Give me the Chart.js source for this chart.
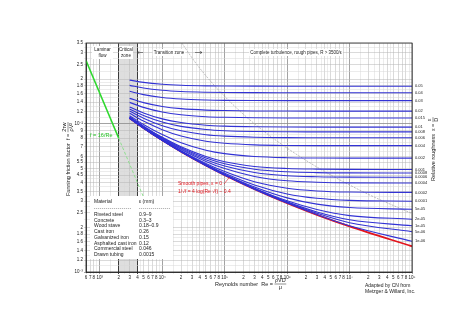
<!DOCTYPE html>
<html>
<head>
<meta charset="utf-8">
<script src="https://cdn.jsdelivr.net/npm/chart.js@4"></script>
<style>
  html, body { margin: 0; padding: 0; background: #fff; }
</style>
</head>
<body>
<canvas id="myChart" width="474" height="334"></canvas>
<script>
// Reynolds numbers where the turbulent curves are read
const reynolds = [3000, 5000, 1e4, 2e4, 5e4, 1e5, 3e5, 1e6, 3e6, 1e7, 1e8];

// relative roughness labels (right side) and Fanning friction factor
const roughness = ['0.05', '0.04', '0.03', '0.02', '0.015', '0.01', '0.008', '0.006', '0.004', '0.002',
  '0.001', '0.0008', '0.0006', '0.0004', '0.0002', '0.0001', '5e-05', '2e-05', '1e-05', '5e-06', '1e-06'];
const rough050 = [0.01967, 0.01899, 0.01845, 0.01817, 0.01800, 0.01795, 0.01791, 0.01789, 0.01789, 0.01789, 0.01789];
const rough040 = [0.01813, 0.01739, 0.01680, 0.01649, 0.01630, 0.01623, 0.01619, 0.01618, 0.01617, 0.01617, 0.01617];
const rough030 = [0.01653, 0.01570, 0.01503, 0.01467, 0.01445, 0.01437, 0.01432, 0.01430, 0.01430, 0.01430, 0.01430];
const rough020 = [0.01482, 0.01387, 0.01307, 0.01263, 0.01235, 0.01226, 0.01219, 0.01217, 0.01216, 0.01216, 0.01216];
const rough015 = [0.01392, 0.01288, 0.01198, 0.01148, 0.01115, 0.01104, 0.01096, 0.01093, 0.01093, 0.01092, 0.01092];
const rough010 = [0.01297, 0.01182, 0.01078, 0.01018, 0.00977, 0.00963, 0.00953, 0.00949, 0.00948, 0.00948, 0.00948];
const rough008 = [0.01257, 0.01136, 0.01026, 0.00959, 0.00914, 0.00897, 0.00886, 0.00882, 0.00881, 0.00880, 0.00880];
const rough006 = [0.01217, 0.01090, 0.00970, 0.00896, 0.00843, 0.00824, 0.00810, 0.00805, 0.00804, 0.00803, 0.00803];
const rough004 = [0.01175, 0.01041, 0.00911, 0.00826, 0.00762, 0.00738, 0.00720, 0.00713, 0.00711, 0.00711, 0.00711];
const rough002 = [0.01132, 0.00989, 0.00845, 0.00745, 0.00663, 0.00628, 0.00601, 0.00590, 0.00587, 0.00586, 0.00586];
const rough001 = [0.01111, 0.00963, 0.00809, 0.00699, 0.00601, 0.00554, 0.00515, 0.00499, 0.00494, 0.00492, 0.00491];
const rough0008 = [0.01106, 0.00958, 0.00803, 0.00689, 0.00587, 0.00537, 0.00493, 0.00474, 0.00468, 0.00466, 0.00465];
const rough0006 = [0.01102, 0.00952, 0.00795, 0.00679, 0.00572, 0.00518, 0.00469, 0.00446, 0.00439, 0.00436, 0.00435];
const rough0004 = [0.01097, 0.00946, 0.00788, 0.00669, 0.00557, 0.00498, 0.00441, 0.00412, 0.00403, 0.00399, 0.00398];
const rough0002 = [0.01093, 0.00940, 0.00780, 0.00658, 0.00540, 0.00476, 0.00406, 0.00367, 0.00352, 0.00346, 0.00344];
const rough0001 = [0.01090, 0.00937, 0.00776, 0.00653, 0.00531, 0.00463, 0.00386, 0.00336, 0.00314, 0.00304, 0.00300];
const rough5e5 = [0.01089, 0.00936, 0.00774, 0.00650, 0.00527, 0.00457, 0.00374, 0.00316, 0.00287, 0.00272, 0.00265];
const rough2e5 = [0.01089, 0.00935, 0.00773, 0.00648, 0.00524, 0.00453, 0.00367, 0.00302, 0.00264, 0.00240, 0.00227];
const rough1e5 = [0.01088, 0.00935, 0.00772, 0.00648, 0.00523, 0.00451, 0.00364, 0.00297, 0.00254, 0.00225, 0.00205];
const rough5e6 = [0.01088, 0.00935, 0.00772, 0.00647, 0.00523, 0.00451, 0.00363, 0.00294, 0.00249, 0.00215, 0.00187];
const rough1e6 = [0.01088, 0.00935, 0.00772, 0.00647, 0.00523, 0.00450, 0.00362, 0.00292, 0.00244, 0.00205, 0.00161];
const roughCurves = [rough050, rough040, rough030, rough020, rough015, rough010, rough008, rough006, rough004,
  rough002, rough001, rough0008, rough0006, rough0004, rough0002, rough0001, rough5e5, rough2e5, rough1e5,
  rough5e6, rough1e6];

// smooth pipe curve (red)
const smoothPipe = [0.01088, 0.00935, 0.00772, 0.00647, 0.00522, 0.00450, 0.00362, 0.00291, 0.00243, 0.00203, 0.00149];

// laminar line f = 16/Re (green), solid part and dashed extension
const laminarRe = [600, 2000];
const laminarF = [0.02667, 0.008];
const laminarExtRe = [2000, 5200];
const laminarExtF = [0.008, 0.00308];

// boundary of complete turbulence (thin gray line)
const boundaryRe = [20500, 35000, 70000, 175000, 350000, 875000, 3500000, 17500000, 35000000, 100000000];
const boundaryF = [0.035, 0.0254, 0.01789, 0.01216, 0.00948, 0.00711, 0.00491, 0.00343, 0.0030, 0.00248];

// zone limits
const zoneRe = [2000, 4000];

// material table
const materials = ['Riveted steel', 'Concrete', 'Wood stave', 'Cast iron', 'Galvanized iron',
  'Asphalted cast iron', 'Commercial steel', 'Drawn tubing'];
const materialEps = ['0.9\u20139', '0.3\u20133', '0.18\u20130.9', '0.26', '0.15', '0.12', '0.046', '0.0015'];

const SUP = { '0': '\u2070', '1': '\u00b9', '2': '\u00b2', '3': '\u00b3', '4': '\u2074', '5': '\u2075',
  '6': '\u2076', '7': '\u2077', '8': '\u2078', '9': '\u2079', '-': '\u207b' };
const sup = s => String(s).split('').map(c => SUP[c]).join('');

// x ticks
const xTicks = [];
for (let d = 2; d <= 7; d++) {
  [1, 1.5, 2, 2.5, 3, 3.5, 4, 4.5, 5, 6, 7, 8, 9].forEach(m => {
    const v = m * Math.pow(10, d);
    if (v < 600) return;
    let kind = 'minor', txt = '';
    if (m === 1) { kind = 'decade'; txt = '10' + sup(d); }
    else if (Number.isInteger(m) && m < 9) { kind = 'label'; txt = String(m); }
    if (zoneRe.includes(v)) kind = 'zone';
    xTicks.push({ value: v, kind: kind, txt: txt });
  });
}
xTicks.push({ value: 1e8, kind: 'decade', txt: '10' + sup(8) });

// y ticks
const yMant = [1, 1.1, 1.2, 1.3, 1.4, 1.5, 1.6, 1.7, 1.8, 1.9, 2, 2.25, 2.5, 2.75, 3, 3.25, 3.5, 3.75,
  4, 4.25, 4.5, 4.75, 5, 5.5, 6, 6.5, 7, 7.5, 8, 8.5, 9, 9.5];
const yLabelled = [1.2, 1.4, 1.6, 1.8, 2, 2.5, 3, 3.5, 4, 4.5, 5, 5.5, 6, 7, 8, 9];
const yTicks = [];
[-3, -2].forEach(d => {
  yMant.forEach(m => {
    const v = m * Math.pow(10, d);
    if (v > 0.0351) return;
    let kind = 'minor', txt = '';
    if (m === 1) { kind = 'decade'; txt = '10' + sup(d); }
    else if (yLabelled.includes(m)) { kind = 'label'; txt = String(m); }
    yTicks.push({ value: v, kind: kind, txt: txt });
  });
});

const gridColor = k => ({ decade: '#8c8c8c', zone: '#3a3a3a', label: '#b4b4b4', minor: '#d8d8d8' })[k];
const gridWidth = k => ({ decade: 0.8, zone: 1, label: 0.5, minor: 0.5 })[k];

const FONT = '"Liberation Sans", Arial, sans-serif';

const datasets = [];
roughCurves.forEach((vals, i) => {
  datasets.push({
    label: 'e/D = ' + roughness[i],
    data: reynolds.map((re, j) => ({ x: re, y: vals[j] })),
    borderColor: '#3232d4',
    borderWidth: 1.1,
    pointRadius: 0,
    cubicInterpolationMode: 'monotone'
  });
});
datasets.push({
  label: 'boundary',
  data: boundaryRe.map((re, j) => ({ x: re, y: boundaryF[j] })),
  borderColor: '#a4a4a4', borderWidth: 0.7, borderDash: [2, 1.2], pointRadius: 0,
  cubicInterpolationMode: 'monotone'
});
datasets.push({
  label: 'smooth',
  data: reynolds.map((re, j) => ({ x: re, y: smoothPipe[j] })),
  borderColor: '#e3141c', borderWidth: 1.8, pointRadius: 0, cubicInterpolationMode: 'monotone'
});
datasets.push({
  label: 'laminar',
  data: laminarRe.map((re, j) => ({ x: re, y: laminarF[j] })),
  borderColor: '#2ed82e', borderWidth: 1.6, pointRadius: 0
});
datasets.push({
  label: 'laminar ext',
  data: laminarExtRe.map((re, j) => ({ x: re, y: laminarExtF[j] })),
  borderColor: '#8fe08f', borderWidth: 1, borderDash: [3, 2], pointRadius: 0
});

function frac(ctx, x, y, num, den) {
  const w = Math.max(ctx.measureText(num).width, ctx.measureText(den).width) + 1;
  ctx.textAlign = 'center';
  ctx.textBaseline = 'middle';
  ctx.fillText(num, x + w / 2, y - 3.3);
  ctx.fillText(den, x + w / 2, y + 3.6);
  ctx.beginPath();
  ctx.moveTo(x, y);
  ctx.lineTo(x + w, y);
  ctx.lineWidth = 0.5;
  ctx.stroke();
  return w;
}

function arrow(ctx, x1, x2, y) {
  const dir = Math.sign(x2 - x1);
  ctx.beginPath();
  ctx.moveTo(x1, y); ctx.lineTo(x2, y);
  ctx.moveTo(x2 - dir * 2, y - 1.3); ctx.lineTo(x2, y); ctx.lineTo(x2 - dir * 2, y + 1.3);
  ctx.lineWidth = 0.5;
  ctx.stroke();
}

const decor = {
  id: 'decor',
  beforeDraw(chart) {
    const { ctx, chartArea: a, scales: { x } } = chart;
    ctx.save();
    ctx.fillStyle = '#fff';
    ctx.fillRect(0, 0, chart.width, chart.height);
    const x1 = x.getPixelForValue(zoneRe[0]), x2 = x.getPixelForValue(zoneRe[1]);
    ctx.fillStyle = '#dedede';
    ctx.fillRect(x1, a.top, x2 - x1, a.bottom - a.top);
    ctx.restore();
  },
  afterDatasetsDraw(chart) {
    const { ctx, chartArea: a, scales: { x, y } } = chart;
    ctx.save();
    ctx.strokeStyle = '#222';
    ctx.lineWidth = 0.8;
    ctx.strokeRect(a.left, a.top, a.right - a.left, a.bottom - a.top);

    // roughness labels on the right
    ctx.fillStyle = '#222';
    ctx.font = '4px ' + FONT;
    ctx.textAlign = 'left';
    ctx.textBaseline = 'middle';
    roughCurves.forEach((vals, i) => {
      ctx.fillText(roughness[i], a.right + 3, y.getPixelForValue(vals[vals.length - 1]));
    });

    // zone labels at the top
    ctx.font = '4.5px ' + FONT;
    ctx.fillStyle = '#fff';
    ctx.fillRect(92, 46, 21, 13);
    ctx.fillRect(119, 46, 14, 13);
    ctx.fillStyle = '#222';
    ctx.textAlign = 'center';
    ctx.fillText('Laminar', 102.5, 50);
    ctx.fillText('flow', 102.5, 55.5);
    ctx.fillText('Critical', 126, 50);
    ctx.fillText('zone', 126, 55.5);
    const tz = 'Transition zone';
    const tzw = ctx.measureText(tz).width;
    ctx.fillStyle = '#fff';
    ctx.fillRect(169 - tzw / 2 - 1, 49, tzw + 2, 7);
    ctx.fillStyle = '#222';
    ctx.fillText(tz, 169, 52.5);
    ctx.strokeStyle = '#222';
    arrow(ctx, 143, 137.5, 52.5);
    arrow(ctx, 195, 202, 52.5);
    const ct = 'Complete turbulence, rough pipes, R > 3500/\u03b5';
    const ctw = ctx.measureText(ct).width;
    ctx.fillStyle = '#fff';
    ctx.fillRect(296 - ctw / 2 - 1, 49, ctw + 2, 7);
    ctx.fillStyle = '#222';
    ctx.fillText(ct, 296, 52.5);

    // laminar label
    ctx.font = '5.5px ' + FONT;
    ctx.fillStyle = '#27c427';
    ctx.textAlign = 'left';
    ctx.fillText('f = 16/Re', 90, 135);

    // smooth pipe label
    ctx.fillStyle = '#e3141c';
    ctx.font = '5px ' + FONT;
    ctx.fillText('Smooth pipes, \u03b5 = 0', 178, 184);
    ctx.fillText('1/\u221af = 4 log(Re \u221af) \u2212 0.4', 178, 192);
    ctx.strokeStyle = '#e3141c';
    ctx.lineWidth = 0.6;
    ctx.beginPath();
    ctx.moveTo(224, 184);
    ctx.lineTo(x.getPixelForValue(1.2e5), y.getPixelForValue(0.00437));
    ctx.stroke();

    // material table
    ctx.fillStyle = '#fff';
    ctx.fillRect(90, 196, 83, 63);
    ctx.fillStyle = '#222';
    ctx.font = '5px ' + FONT;
    ctx.fillText('Material', 94, 202);
    ctx.fillText('\u03b5 (mm)', 139, 202);
    ctx.strokeStyle = '#444';
    ctx.lineWidth = 0.4;
    ctx.setLineDash([1.2, 0.8]);
    ctx.beginPath();
    ctx.moveTo(94, 208.5); ctx.lineTo(131, 208.5);
    ctx.moveTo(139, 208.5); ctx.lineTo(170, 208.5);
    ctx.stroke();
    ctx.setLineDash([]);
    materials.forEach((m, i) => {
      const ty = 214.5 + i * 5.75;
      ctx.fillText(m, 94, ty);
      ctx.fillText(materialEps[i], 139, ty);
    });

    // axis titles
    ctx.fillStyle = '#222';
    ctx.strokeStyle = '#222';
    ctx.font = '5.5px ' + FONT;
    ctx.textAlign = 'left';
    ctx.textBaseline = 'middle';
    let t = 'Reynolds number  Re = ';
    ctx.fillText(t, 215, 284);
    frac(ctx, 215 + ctx.measureText(t).width, 284, '\u03c1VD', '\u03bc');

    ctx.save();
    ctx.translate(68, 196);
    ctx.rotate(-Math.PI / 2);
    t = 'Fanning friction factor  f = ';
    ctx.textAlign = 'left';
    ctx.fillText(t, 0, 0);
    frac(ctx, ctx.measureText(t).width, 0, '2\u03c4w', '\u03c1V\u00b2');
    ctx.restore();

    ctx.save();
    ctx.translate(433, 181);
    ctx.rotate(-Math.PI / 2);
    t = 'Relative roughness  \u03b5 = ';
    ctx.textAlign = 'left';
    ctx.fillText(t, 0, 0);
    frac(ctx, ctx.measureText(t).width, 0, '\u03b5', 'D');
    ctx.restore();

    ctx.font = '5px ' + FONT;
    ctx.textAlign = 'left';
    ctx.fillText('Adapted by CN from', 365, 286);
    ctx.fillText('Metzger & Willard, Inc.', 365, 292);
    ctx.restore();
  }
};

const ctx = document.getElementById('myChart');
const config = {
  type: 'line',
  data: { datasets: datasets },
  options: {
    responsive: false,
    animation: false,
    devicePixelRatio: 1,
    layout: { padding: { left: 64, top: 43, right: 62, bottom: 50 } },
    plugins: { legend: { display: false }, tooltip: { enabled: false } },
    scales: {
      x: {
        type: 'logarithmic',
        min: 600,
        max: 1e8,
        afterBuildTicks: s => { s.ticks = xTicks.map(t => ({ value: t.value, kind: t.kind, txt: t.txt })); },
        afterFit: s => { s.height = 12; },
        ticks: {
          autoSkip: false, maxRotation: 0, padding: 1, color: '#222',
          font: { size: 4.5, family: FONT },
          callback: (v, i, ticks) => ticks[i].txt
        },
        grid: {
          tickLength: 2,
          color: c => c.tick ? gridColor(c.tick.kind) : '#ccc',
          lineWidth: c => c.tick ? gridWidth(c.tick.kind) : 0.5
        },
        border: { color: '#222', width: 0.8 }
      },
      y: {
        type: 'logarithmic',
        min: 0.001,
        max: 0.035,
        afterBuildTicks: s => { s.ticks = yTicks.map(t => ({ value: t.value, kind: t.kind, txt: t.txt })); },
        afterFit: s => { s.width = 22; },
        ticks: {
          autoSkip: false, padding: 1, color: '#222',
          font: { size: 4.5, family: FONT },
          callback: (v, i, ticks) => ticks[i].txt
        },
        grid: {
          tickLength: 2,
          color: c => c.tick ? gridColor(c.tick.kind) : '#ccc',
          lineWidth: c => c.tick ? gridWidth(c.tick.kind) : 0.5
        },
        border: { color: '#222', width: 0.8 }
      }
    }
  },
  plugins: [decor]
};

new Chart(ctx, config);
</script>
</body>
</html>
